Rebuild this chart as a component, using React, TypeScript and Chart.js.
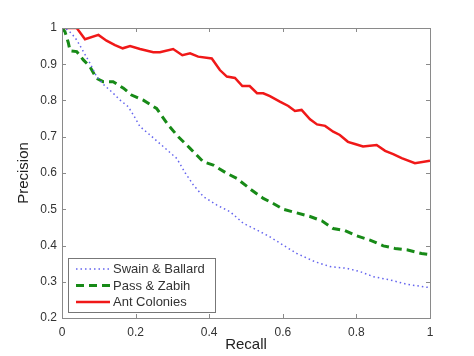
import React, { useEffect, useRef } from "react";
import { Chart, registerables } from "chart.js";

Chart.register(...registerables);

const seriesLabels = ["Swain & Ballard", "Pass & Zabih", "Ant Colonies"];

const swainRecall = [0, 0.008, 0.026, 0.04, 0.058, 0.076, 0.094, 0.114, 0.135, 0.158, 0.18, 0.194, 0.212, 0.239, 0.275, 0.312, 0.335, 0.357, 0.384, 0.42, 0.457, 0.493, 0.529, 0.565, 0.601, 0.638, 0.688, 0.728, 0.774, 0.81, 0.846, 0.891, 0.937, 0.991, 1.0];
const swainPrecision = [1.0, 1.0, 0.985, 0.967, 0.935, 0.903, 0.866, 0.843, 0.824, 0.801, 0.783, 0.76, 0.728, 0.705, 0.673, 0.64, 0.6, 0.567, 0.535, 0.512, 0.493, 0.461, 0.443, 0.424, 0.401, 0.378, 0.355, 0.342, 0.337, 0.328, 0.314, 0.305, 0.293, 0.285, 0.284];

const passRecall = [0, 0.008, 0.017, 0.022, 0.04, 0.058, 0.076, 0.094, 0.112, 0.139, 0.167, 0.189, 0.221, 0.257, 0.289, 0.316, 0.348, 0.384, 0.411, 0.448, 0.475, 0.515, 0.547, 0.574, 0.601, 0.638, 0.674, 0.706, 0.737, 0.769, 0.8, 0.837, 0.873, 0.905, 0.937, 0.977, 1.0];
const passPrecision = [1.0, 0.99, 0.96, 0.937, 0.935, 0.912, 0.893, 0.861, 0.852, 0.852, 0.834, 0.815, 0.801, 0.778, 0.732, 0.7, 0.668, 0.631, 0.622, 0.599, 0.585, 0.553, 0.53, 0.516, 0.5, 0.49, 0.48, 0.468, 0.447, 0.441, 0.427, 0.415, 0.399, 0.392, 0.388, 0.378, 0.375];

const antRecall = [0, 0.04, 0.0625, 0.099, 0.121, 0.144, 0.165, 0.185, 0.212, 0.248, 0.266, 0.302, 0.327, 0.348, 0.37, 0.407, 0.429, 0.448, 0.47, 0.49, 0.51, 0.53, 0.547, 0.565, 0.592, 0.615, 0.633, 0.651, 0.674, 0.693, 0.715, 0.737, 0.755, 0.777, 0.796, 0.818, 0.855, 0.878, 0.9, 0.923, 0.959, 1.0];
const antPrecision = [1.0, 1.0, 0.969, 0.981, 0.965, 0.953, 0.944, 0.95, 0.942, 0.933, 0.933, 0.942, 0.925, 0.93, 0.921, 0.916, 0.884, 0.866, 0.862, 0.84, 0.84, 0.82, 0.82, 0.812, 0.797, 0.785, 0.771, 0.774, 0.748, 0.734, 0.73, 0.714, 0.705, 0.686, 0.68, 0.673, 0.677, 0.661, 0.652, 0.641, 0.627, 0.634];

const xTicks = [0, 0.2, 0.4, 0.6, 0.8, 1];
const yTicks = [0.2, 0.3, 0.4, 0.5, 0.6, 0.7, 0.8, 0.9, 1];

const colors = ["#6464ee", "#178a17", "#f01818"];
const dashes = [[1.5, 3], [8, 5], []];
const widths = [1.5, 3, 2.5];

const FONT = "'Liberation Sans', Arial, Helvetica, sans-serif";

function pts(xs: number[], ys: number[]) {
  return xs.map((x, i) => ({ x, y: ys[i] }));
}

const boxPlugin = {
  id: "matlabBox",
  afterDraw(chart: any) {
    const { ctx, chartArea } = chart;
    const { left, right, top, bottom } = chartArea;
    const xs = chart.scales.x;
    const ys = chart.scales.y;
    ctx.save();
    ctx.strokeStyle = "#8a8a8a";
    ctx.lineWidth = 1;
    ctx.setLineDash([]);
    ctx.strokeRect(Math.round(left) + 0.5, Math.round(top) + 0.5, Math.round(right - left), Math.round(bottom - top));
    const tl = 4;
    ctx.beginPath();
    xTicks.forEach((v) => {
      const px = Math.round(xs.getPixelForValue(v)) + 0.5;
      ctx.moveTo(px, bottom);
      ctx.lineTo(px, bottom - tl);
      ctx.moveTo(px, top);
      ctx.lineTo(px, top + tl);
    });
    yTicks.forEach((v) => {
      const py = Math.round(ys.getPixelForValue(v)) + 0.5;
      ctx.moveTo(left, py);
      ctx.lineTo(left + tl, py);
      ctx.moveTo(right, py);
      ctx.lineTo(right - tl, py);
    });
    ctx.stroke();

    // legend
    const lx = 68, ly = 258, lw = 147, lh = 54;
    ctx.fillStyle = "#ffffff";
    ctx.fillRect(lx, ly, lw, lh);
    ctx.strokeStyle = "#777777";
    ctx.strokeRect(lx + 0.5, ly + 0.5, lw, lh);
    chart.data.datasets.forEach((ds: any, i: number) => {
      const y = ly + 11 + i * 16.5;
      ctx.beginPath();
      ctx.strokeStyle = ds.borderColor;
      ctx.lineWidth = ds.borderWidth;
      ctx.setLineDash(ds.borderDash || []);
      ctx.moveTo(76, y);
      ctx.lineTo(110, y);
      ctx.stroke();
      ctx.setLineDash([]);
      ctx.fillStyle = "#333333";
      ctx.font = "13px " + FONT;
      ctx.textBaseline = "middle";
      ctx.textAlign = "left";
      ctx.fillText(ds.label, 113, y + 0.5);
    });
    ctx.restore();
  },
};

export default function App() {
  const ref = useRef<HTMLCanvasElement>(null);
  useEffect(() => {
    if (!ref.current) return;
    const chart = new Chart(ref.current, {
      type: "line",
      data: {
        datasets: [
          { label: seriesLabels[0], data: pts(swainRecall, swainPrecision) },
          { label: seriesLabels[1], data: pts(passRecall, passPrecision) },
          { label: seriesLabels[2], data: pts(antRecall, antPrecision) },
        ].map((d, i) => ({
          ...d,
          borderColor: colors[i],
          backgroundColor: colors[i],
          borderWidth: widths[i],
          borderDash: dashes[i],
          pointRadius: 0,
          tension: 0,
          fill: false,
        })),
      },
      options: {
        responsive: false,
        animation: false,
        layout: { padding: { left: 0, right: 44, top: 28, bottom: 0 } },
        plugins: { legend: { display: false }, tooltip: { enabled: false } },
        scales: {
          x: {
            type: "linear",
            min: 0,
            max: 1,
            afterBuildTicks: (s: any) => {
              s.ticks = xTicks.map((v) => ({ value: v }));
            },
            afterFit: (s: any) => {
              s.height = 38;
            },
            grid: { display: false, drawTicks: false },
            border: { display: false },
            ticks: {
              padding: 7,
              color: "#333333",
              font: { family: FONT, size: 12 },
              maxRotation: 0,
              callback: (v: any) => String(Math.round(Number(v) * 10) / 10),
            },
            title: {
              display: true,
              text: "Recall",
              color: "#222222",
              font: { family: FONT, size: 15 },
              padding: { top: 0, bottom: 2 },
            },
          },
          y: {
            type: "linear",
            min: 0.2,
            max: 1,
            afterBuildTicks: (s: any) => {
              s.ticks = yTicks.map((v) => ({ value: v }));
            },
            afterFit: (s: any) => {
              s.width = 62;
            },
            grid: { display: false, drawTicks: false },
            border: { display: false },
            ticks: {
              padding: 5,
              color: "#333333",
              font: { family: FONT, size: 12 },
              callback: (v: any) => String(Math.round(Number(v) * 10) / 10),
            },
            title: {
              display: true,
              text: "Precision",
              color: "#222222",
              font: { family: FONT, size: 15 },
              padding: { top: 15, bottom: 0 },
            },
          },
        },
      },
      plugins: [boxPlugin],
    });
    return () => chart.destroy();
  }, []);
  return (
    <div style={{ position: "fixed", left: 0, top: 0, width: 474, height: 356, background: "#fff" }}>
      <canvas ref={ref} width={474} height={356} style={{ display: "block" }} />
    </div>
  );
}
